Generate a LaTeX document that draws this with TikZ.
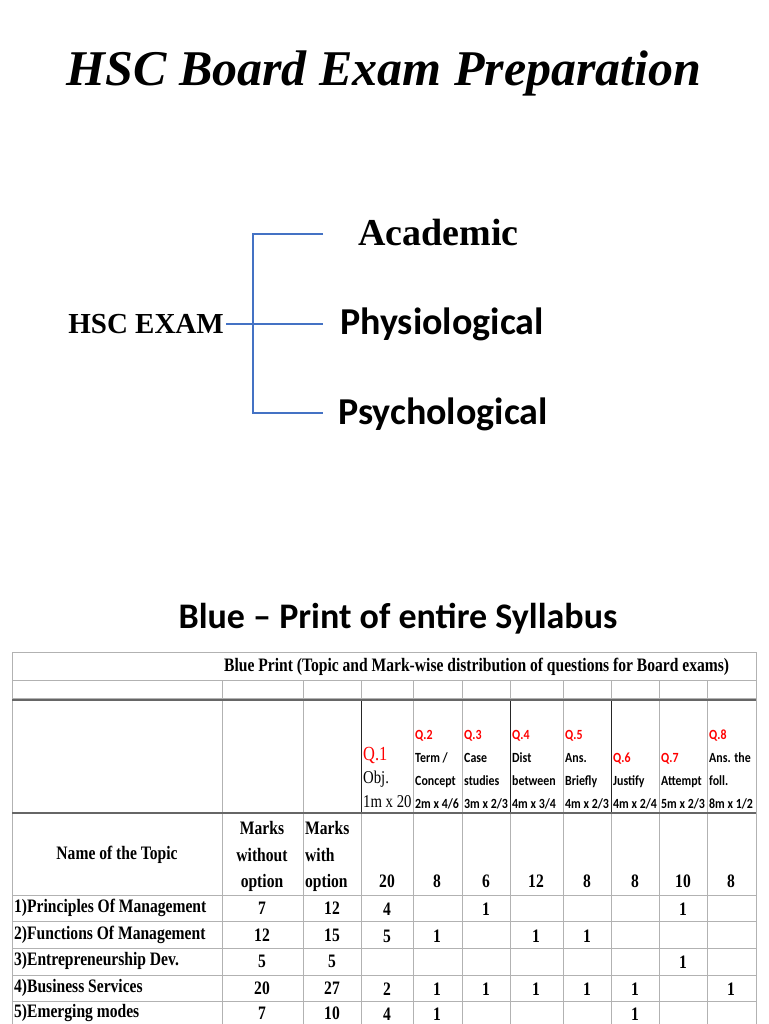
\documentclass[tikz,border=0pt]{standalone}
\usepackage{fontspec}
\setmainfont{Liberation Serif}
\newfontfamily\calib{Carlito}
\newfontfamily\calibn[FakeStretch=0.85]{Carlito}
\newfontfamily\cambn[FakeStretch=0.82]{Liberation Serif}
\definecolor{lineblue}{RGB}{68,114,196}
\begin{document}
\begin{tikzpicture}[x=1pt,y=-1pt,
  conn/.style={draw=lineblue, line width=1.2pt},
  grid/.style={draw=gray!60, line width=0.6pt},
  thick/.style={draw=gray!80!black, line width=1.6pt},
  cell/.style={font=\cambn\bfseries\fontsize{19}{21}\selectfont, inner sep=0pt},
  qh/.style={font=\calibn\bfseries\fontsize{14}{16}\selectfont, inner sep=0pt, anchor=base west},
  qr/.style={qh, text=red}]
\useasboundingbox (0,0) rectangle (768,1024);
\fill[white] (0,0) rectangle (768,1024);
\node (title) at (384,73) {\fontsize{50}{54}\selectfont\bfseries\itshape HSC Board Exam Preparation};
% tree
\node[font=\bfseries\fontsize{29}{32}\selectfont, anchor=east, inner sep=2pt] (hsc) at (226,324) {HSC EXAM};
\coordinate (ja) at (253,234);
\coordinate (jc) at (253,413);
\node[font=\bfseries\fontsize{38}{40}\selectfont, anchor=west, inner sep=0pt] (aca) at (358,233) {Academic};
\node[font=\calib\bfseries\fontsize{38}{40}\selectfont, anchor=west, inner sep=0pt] (phy) at (340,324) {Physiological};
\node[font=\calib\bfseries\fontsize{38}{40}\selectfont, anchor=west, inner sep=0pt] (psy) at (338,414) {Psychological};
\coordinate (ea) at (323,234);
\coordinate (eb) at (323,324);
\coordinate (ec) at (323,413);
\draw[conn] (hsc.east) -- (eb);
\draw[conn] (ea) -- (ja) -- (jc) -- (ec);
% subtitle
\node[font=\calib\bfseries\fontsize{36}{38}\selectfont] (bp) at (398,619) {Blue – Print of entire Syllabus};
% table grid
\draw[grid] (12,652) -- (756,652);
\draw[grid] (12,680) -- (756,680);
\draw[grid] (12,698) -- (756,698);
\foreach \y in {895,921,948,975,1001} \draw[grid] (12,\y) -- (756,\y);
\draw[grid] (12,652) -- (12,1024);
\draw[grid] (756,652) -- (756,1024);
\foreach \x in {222,303,361,413,462,510,563,611,659,707} \draw[grid] (\x,680) -- (\x,1024);
\foreach \x in {361,510,611} \draw[draw=gray!30!black, line width=0.7pt] (\x,700) -- (\x,813);
\draw[thick] (12,700) -- (756,700);
\draw[thick] (12,813) -- (756,813);
\node[cell, anchor=west, font=\cambn\bfseries\fontsize{19}{21}\selectfont] (bph) at (224,667) {Blue Print (Topic and Mark-wise distribution of questions for Board exams)};
% Q headers
\node[cell, anchor=base west, text=red, font=\cambn\fontsize{20}{22}\selectfont] (q1) at (363,760) {Q.1};
\node[cell, anchor=base west, font=\cambn\fontsize{18}{20}\selectfont] (q1b) at (363,783) {Obj.};
\node[cell, anchor=base west, font=\cambn\fontsize{18}{20}\selectfont] (q1c) at (363,807) {1m x 20};
\foreach \x/\q/\a/\b/\c [count=\i] in {415/Q.2/{Term /}/Concept/{2m x 4/6},464/Q.3/Case/studies/{3m x 2/3},512/Q.4/Dist/between/{4m x 3/4},565/Q.5/Ans./Briefly/{4m x 2/3},709/Q.8/Ans. the/foll./{8m x 1/2}}{
  \node[qr] (qa\i) at (\x,739) {\q};
  \node[qh] (qb\i) at (\x,762) {\a};
  \node[qh] (qc\i) at (\x,785) {\b};
  \node[qh] (qd\i) at (\x,808) {\c};
}
\node[qr] (q6) at (613,762) {Q.6};
\node[qh] (q6b) at (613,785) {Justify};
\node[qh] (q6c) at (613,808) {4m x 2/4};
\node[qr] (q7) at (661,762) {Q.7};
\node[qh] (q7b) at (661,785) {Attempt};
\node[qh] (q7c) at (661,808) {5m x 2/3};
% second header
\node[cell] (nt) at (117,855) {Name of the Topic};
\node[cell, anchor=base] (m1a) at (262,834) {Marks};
\node[cell, anchor=base] (m1b) at (262,861) {without};
\node[cell, anchor=base] (m1c) at (262,887) {option};
\node[cell, anchor=base west] (m2a) at (305,834) {Marks};
\node[cell, anchor=base west] (m2b) at (305,861) {with};
\node[cell, anchor=base west] (m2c) at (305,887) {option};
\foreach \x/\v [count=\i] in {387/20,437/8,486/6,536/12,587/8,635/8,683/10,731/8}
  \node[cell, anchor=base] (tot\i) at (\x,887) {\v};
% rows
\foreach \y/\nm/\a/\b/\c/\d/\e/\f/\g/\h/\k/\l [count=\r] in {
  908/1)Principles Of Management/7/12/4/{}/1/{}/{}/{}/1/{},
  935/2)Functions Of Management/12/15/5/1/{}/1/1/{}/{}/{},
  961/3)Entrepreneurship Dev./5/5/{}/{}/{}/{}/{}/{}/1/{},
  988/4)Business Services/20/27/2/1/1/1/1/1/{}/1,
  1013/5)Emerging modes/7/10/4/1/{}/{}/{}/1/{}/{}}{
  \node[cell, anchor=west] (n\r) at (14,\y) {\nm};
  \node[cell] (a\r) at (262,\y) {\a};
  \node[cell] (b\r) at (332,\y) {\b};
  \node[cell] (c\r) at (387,\y+1) {\c};
  \node[cell] (d\r) at (437,\y+1) {\d};
  \node[cell] (e\r) at (486,\y+1) {\e};
  \node[cell] (f\r) at (536,\y+1) {\f};
  \node[cell] (g\r) at (587,\y+1) {\g};
  \node[cell] (h\r) at (635,\y+1) {\h};
  \node[cell] (k\r) at (683,\y+1) {\k};
  \node[cell] (l\r) at (731,\y+1) {\l};
}
\end{tikzpicture}
\end{document}
